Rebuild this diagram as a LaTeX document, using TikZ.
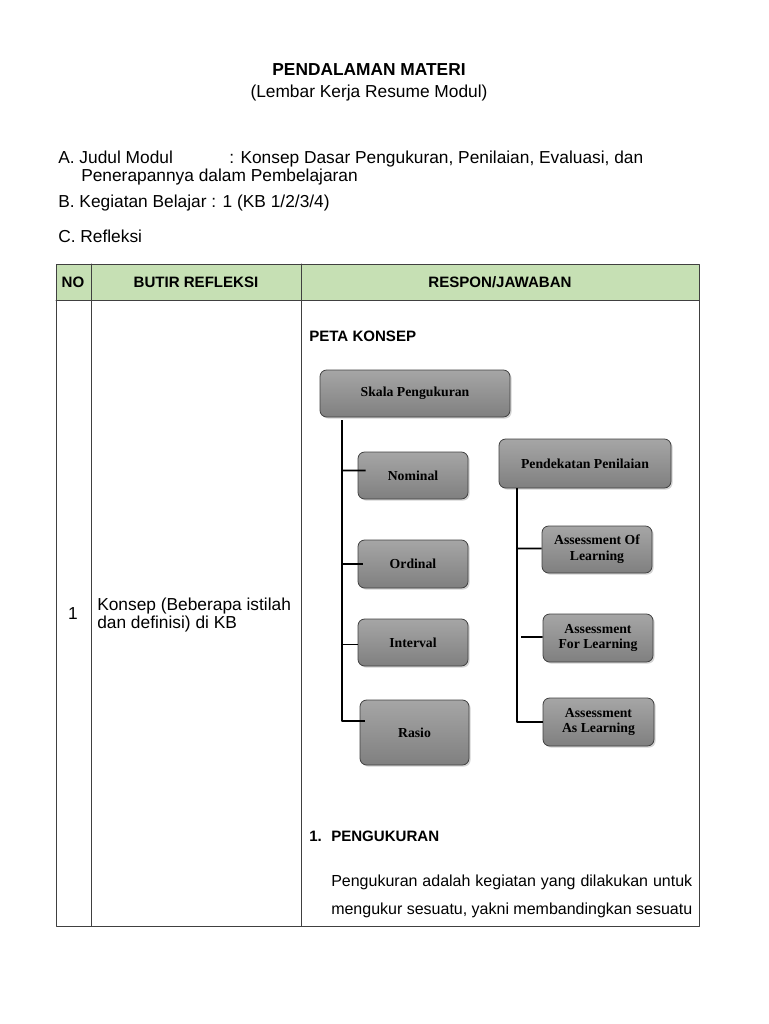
\documentclass[tikz,border=0pt]{standalone}
\usepackage{fontspec}
\setmainfont{Liberation Sans}
\newfontfamily\boxfont{Liberation Serif}
\usetikzlibrary{shadows}
\definecolor{hdrgreen}{HTML}{C6E0B4}

\begin{document}
\fontsize{13}{15}\selectfont
\begin{tikzpicture}[x=0.75pt,y=-0.75pt,line cap=round,line join=round,
  txt/.style={anchor=base west,inner sep=0pt},
  ctxt/.style={anchor=base,inner sep=0pt},
  kop/.style={font=\bfseries\fontsize{11.3}{13}\selectfont},
  isi/.style={font=\fontsize{12}{14}\selectfont},
  konsep/.style={rounded corners=5pt,draw=black!75,line width=0.6pt,
    top color=black!35,bottom color=black!50,
    drop shadow={shadow xshift=1.2pt,shadow yshift=-1.2pt,opacity=0.35},
    font=\boxfont\bfseries\fontsize{10.3}{11.8}\selectfont,align=center,
    minimum width=82.5pt,minimum height=35.25pt,inner sep=1pt},
  conn/.style={line width=1.3pt,line cap=butt},
  grid/.style={draw=black!75,line width=0.75pt}]
  \useasboundingbox (0,0) rectangle (768,1024);

  % kepala lembar
  \node[ctxt,font=\bfseries] (judul) at (369,75) {PENDALAMAN MATERI};
  \node[ctxt] (sub) at (369,98) {(Lembar Kerja Resume Modul)};
  \node[txt] (a1) at (58,163) {A. Judul Modul};
  \node[txt] (a2) at (229,163) {: Konsep Dasar Pengukuran, Penilaian, Evaluasi, dan};
  \node[txt] (a3) at (81,181) {Penerapannya dalam Pembelajaran};
  \node[txt] (b1) at (58,207) {B. Kegiatan Belajar : 1 (KB 1/2/3/4)};
  \node[txt] (c1) at (58,242) {C. Refleksi};

  % tabel
  \fill[hdrgreen] (56,264) rectangle (699,300);
  \draw[grid] (56,264) rectangle (699,926);
  \draw[grid] (56,300) -- (699,300);
  \draw[grid] (91,264) -- (91,926);
  \draw[grid] (301,264) -- (301,926);
  \node[ctxt,kop] (hno) at (73,287) {NO};
  \node[ctxt,kop] (hbutir) at (196,287) {BUTIR REFLEKSI};
  \node[ctxt,kop] (hrespon) at (500,287) {RESPON/JAWABAN};
  \node[ctxt] (no1) at (73,619) {1};
  \node[txt] (butir1) at (97,610) {Konsep (Beberapa istilah};
  \node[txt] (butir2) at (97,628) {dan definisi) di KB};

  % peta konsep
  \node[txt,kop] (peta) at (309,341) {PETA KONSEP};
  \node[konsep,minimum width=142.5pt] (skala) at (415,393.5) {Skala Pengukuran};
  \node[konsep,minimum width=129pt,minimum height=36.75pt] (pendekatan) at (585,463.5) {Pendekatan Penilaian};
  \node[konsep] (nominal) at (413,475.5) {Nominal};
  \node[konsep,minimum height=36pt] (ordinal) at (413,564) {Ordinal};
  \node[konsep] (interval) at (413,642.5) {Interval};
  \node[konsep,minimum width=81.75pt,minimum height=48.75pt] (rasio) at (414.5,732.5) {Rasio};
  \node[konsep] (aol) at (597,549.5) {Assessment Of\\Learning};
  \node[konsep,minimum height=36pt] (afl) at (598,638) {Assessment\\For Learning};
  \node[konsep,minimum width=83.25pt,minimum height=36pt] (aal) at (598.5,722) {Assessment\\As Learning};

  \coordinate (ltop) at (342,420);
  \coordinate (rtop) at (517,488);
  \draw[conn] (ltop) |- ([yshift=8.6pt,xshift=4pt]rasio.west);
  \draw[conn] (ltop |- nominal.west) ++(0,-5) -- ([yshift=3.7pt,xshift=6pt]nominal.west);
  \draw[conn] (ltop |- ordinal.west) -- ([xshift=4pt]ordinal.west);
  \draw[conn] (ltop |- interval.west) ++(0,2) -- ([yshift=-1.5pt]interval.west);
  \draw[conn] (rtop) |- (aal.west);
  \draw[conn] (rtop |- aol.west) ++(0,-1) -- ([yshift=0.7pt]aol.west);
  \draw[conn] (rtop |- afl.west) ++(4,-1) -- ([yshift=0.7pt]afl.west);

  % uraian
  \node[txt,kop] (num1) at (309,841) {1.};
  \node[txt,kop] (peng) at (331,841) {PENGUKURAN};
  \node[txt,isi] (par1) at (331,886) {\makebox[270.75pt][s]{Pengukuran adalah kegiatan yang dilakukan untuk}};
  \node[txt,isi] (par2) at (331,914) {\makebox[270.75pt][s]{mengukur sesuatu, yakni membandingkan sesuatu}};
\end{tikzpicture}
\end{document}
